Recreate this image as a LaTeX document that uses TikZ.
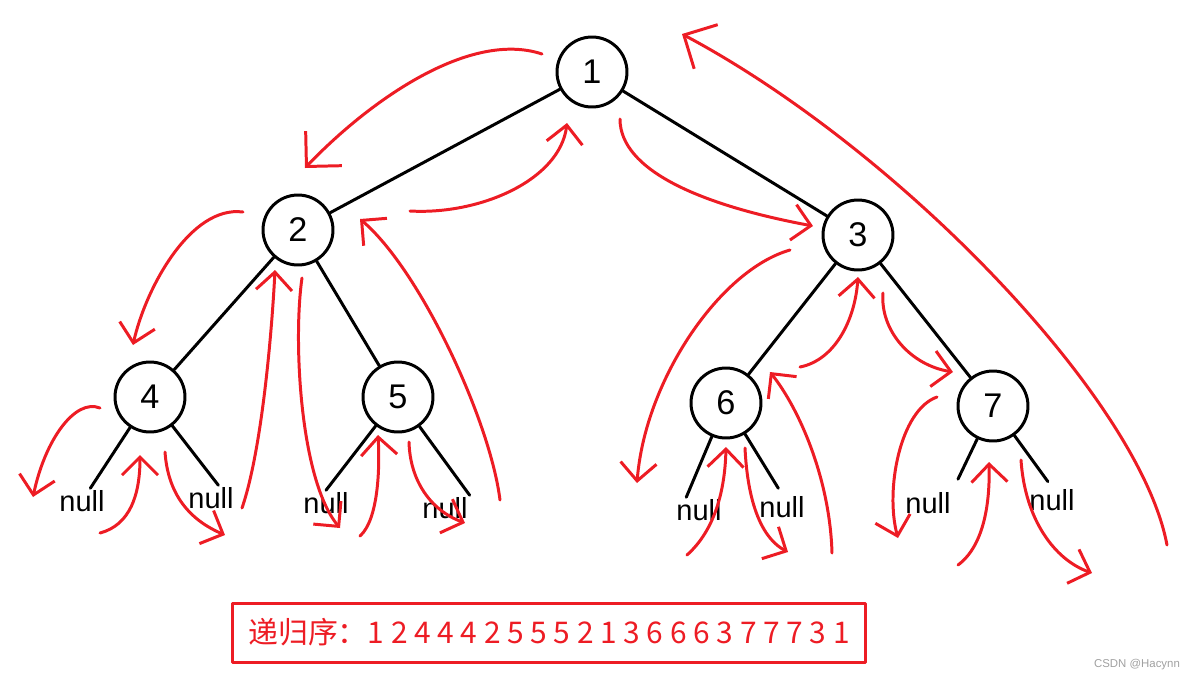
\documentclass[tikz,border=0pt]{standalone}
\usepackage{fontspec}
\setmainfont{Liberation Sans}
\newfontfamily\cjkfont{Noto Sans CJK SC}
\usetikzlibrary{arrows.meta}
\definecolor{ffqqqq}{rgb}{0.929411764706,0.109803921569,0.141176470588}
\definecolor{aaaaaa}{rgb}{0.627450980392,0.627450980392,0.627450980392}

\begin{document}
\begin{tikzpicture}[line cap=round,line join=round,x=0.02cm,y=-0.02cm,
  vertex/.style={draw,circle,line width=1.7pt,minimum size=1.4cm,inner sep=0pt,font=\fontsize{19.5}{19.5}\selectfont},
  nil/.style={inner sep=1pt,font=\fontsize{16.5}{16.5}\selectfont},
  edge/.style={line width=1.7pt},
  walk/.style={color=ffqqqq,line width=1.7pt,-{Straight Barb[length=3.6mm,width=7.2mm]}},
  bigwalk/.style={walk,-{Straight Barb[length=5mm,width=10mm]}}]
\useasboundingbox (0,0) rectangle (1191,681);
\node[vertex] (n1) at (592,72) {1};
\node[vertex] (n2) at (298,230) {2};
\node[vertex] (n3) at (858,235) {3};
\node[vertex] (n4) at (150,397) {4};
\node[vertex] (n5) at (398,397) {5};
\node[vertex] (n6) at (726,403) {6};
\node[vertex] (n7) at (993,406) {7};
\node[nil] (l4) at (82,501) {null};
\node[nil] (r4) at (211,498) {null};
\node[nil] (l5) at (326,503) {null};
\node[nil] (r5) at (445,508) {null};
\node[nil] (l6) at (699,510) {null};
\node[nil] (r6) at (782,507) {null};
\node[nil] (l7) at (928,503) {null};
\node[nil] (r7) at (1052,500) {null};
\draw[edge] (n1) -- (n2);
\draw[edge] (n1) -- (n3);
\draw[edge] (n2) -- (n4);
\draw[edge] (n2) -- (n5);
\draw[edge] (n3) -- (n6);
\draw[edge] (n3) -- (n7);
\draw[edge] (n4) -- (l4);
\draw[edge] (n4) -- (r4.60);
\draw[edge] (n5) -- (l5.north);
\draw[edge] (n5) -- (r5.north east);
\draw[edge] (n6) -- (l6.135);
\draw[edge,shorten >=4pt] (n6) -- (r6.north);
\draw[edge,shorten >=7pt] (n7) -- (l7.north east);
\draw[edge,shorten >=4pt] (n7) -- (r7.north);
% order of the visits
\draw[bigwalk] (542,54) .. controls (470,30) and (370,100) .. (305,168);
\draw[walk] (410,211) .. controls (480,215) and (560,180) .. (567,123);
\draw[walk] (620,119) .. controls (620,170) and (700,205) .. (813,226);
\draw[bigwalk] (1167,545) .. controls (1140,400) and (900,150) .. (682,34);
\draw[walk] (243,212) .. controls (190,205) and (145,290) .. (133,345);
\draw[walk] (242,508) .. controls (262,450) and (272,330) .. (275,270);
\draw[walk] (302,278) .. controls (293,340) and (300,480) .. (340,528);
\draw[walk] (500,500) .. controls (490,420) and (420,270) .. (360,219);
\draw[walk] (100,408) .. controls (75,398) and (45,440) .. (33,497);
\draw[walk] (100,533) .. controls (130,525) and (140,495) .. (140,455);
\draw[walk] (165,452) .. controls (168,495) and (190,520) .. (225,535);
\draw[walk] (360,536) .. controls (378,520) and (380,470) .. (378,435);
\draw[walk] (409,442) .. controls (410,480) and (430,510) .. (465,523);
\draw[walk] (790,250) .. controls (720,270) and (645,380) .. (637,483);
\draw[walk] (800,367) .. controls (835,360) and (855,320) .. (858,277);
\draw[walk] (883,293) .. controls (880,330) and (910,365) .. (953,372);
\draw[walk] (832,553) .. controls (830,480) and (800,410) .. (770,372);
\draw[walk] (687,555) .. controls (715,530) and (725,490) .. (726,447);
\draw[walk] (745,448) .. controls (748,510) and (765,540) .. (788,552);
\draw[walk] (937,397) .. controls (900,410) and (885,490) .. (898,538);
\draw[walk] (958,565) .. controls (985,545) and (990,500) .. (989,462);
\draw[walk] (1021,460) .. controls (1025,520) and (1055,560) .. (1092,573);
\node[draw=ffqqqq,line width=1.7pt,minimum width=12.68cm,minimum height=1.18cm,text=ffqqqq,font=\cjkfont\fontsize{17}{17}\selectfont] (order) at (549,632.5) {递归序：1 2 4 4 4 2 5 5 5 2 1 3 6 6 6 3 7 7 7 3 1};
\node[text=aaaaaa,font=\fontsize{6.5}{6.5}\selectfont] (mark) at (1137,665) {CSDN @Hacynn};
\end{tikzpicture}
\end{document}
